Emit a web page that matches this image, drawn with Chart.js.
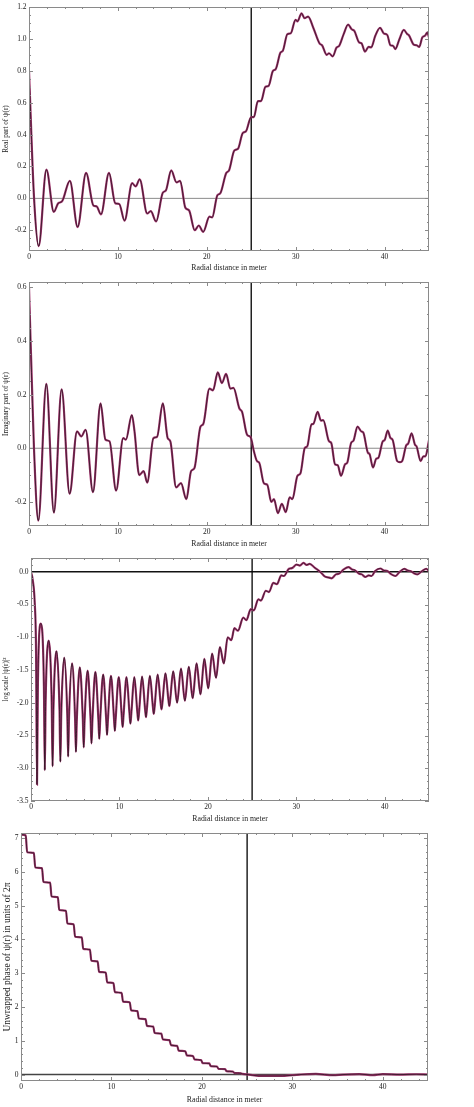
<!DOCTYPE html>
<html>
<head>
<meta charset="utf-8">
<script src="https://cdn.jsdelivr.net/npm/chart.js@4"></script>
<style>
  body { margin: 0; background: #fff; width: 474px; height: 1107px; overflow: hidden; position: relative; }
  canvas { position: absolute; left: 0; }
</style>
</head>
<body>
<canvas id="c1" width="474" height="275" style="top:0px"></canvas>
<canvas id="c2" width="474" height="276" style="top:275px"></canvas>
<canvas id="c3" width="474" height="275" style="top:551px"></canvas>
<canvas id="c4" width="474" height="281" style="top:826px"></canvas>
<script>
// radial distance (m) and real part
const rReal = [0, 0.57, 1.09, 1.96, 2.79, 3.3, 3.7, 4.6, 5.47, 6.42,
  7.25, 7.6, 8.1, 9.0, 9.7, 10.15, 10.75, 11.6, 12.0, 12.45,
  13.3, 13.7, 14.3, 15.05, 15.4, 16.0, 16.6, 17.0, 17.6, 18.0,
  18.65, 19.1, 19.6, 20.3, 20.6, 21.2, 21.5, 22.2, 22.5, 23.1,
  23.5, 24.05, 24.4, 25.0, 25.3, 25.75, 26.1, 26.6, 26.95, 27.45,
  27.75, 28.3, 28.55, 29.07, 29.45, 29.98, 30.2, 30.66, 31.0, 31.4,
  31.98, 32.7, 32.97, 33.5, 33.75, 34.17, 34.6, 34.9, 35.4, 35.9,
  36.3, 36.6, 37.15, 37.4, 37.8, 38.2, 38.5, 38.96, 39.5, 39.9,
  40.3, 40.66, 40.96, 41.2, 41.67, 42.17, 42.55, 42.74, 43.3, 43.6,
  43.9, 44.25, 44.55, 44.8, 45];
const vReal = [0.80, 0, -0.30, 0.18, -0.085, -0.03, -0.02, 0.11, -0.18, 0.16,
  -0.045, -0.05, -0.10, 0.16, -0.03, -0.035, -0.14, 0.095, 0.075, 0.12,
  -0.095, -0.08, -0.145, 0.035, 0.05, 0.175, 0.10, 0.11, -0.06, -0.075,
  -0.20, -0.17, -0.21, -0.115, -0.12, 0.02, 0.03, 0.16, 0.175, 0.30,
  0.31, 0.41, 0.42, 0.51, 0.51, 0.61, 0.61, 0.70, 0.705, 0.80,
  0.81, 0.915, 0.925, 1.03, 1.035, 1.12, 1.11, 1.16, 1.13, 1.14,
  1.07, 0.97, 0.96, 0.90, 0.91, 0.89, 0.946, 0.957, 1.03, 1.09,
  1.06, 1.05, 0.977, 0.973, 0.92, 0.95, 0.947, 1.02, 1.07, 1.035,
  1.025, 0.96, 0.957, 0.936, 0.998, 1.056, 1.03, 1.023, 0.963, 0.96,
  0.95, 1.01, 1.02, 1.04, 1.01];

// imaginary part
const rImag = [0, 0.56, 1.05, 1.95, 2.8, 3.67, 4.57, 5.4, 5.88, 6.37,
  7.2, 8.05, 8.6, 9.06, 9.8, 10.6, 10.9, 11.57, 11.87, 12.4,
  12.9, 13.3, 14.0, 14.4, 15.06, 15.6, 15.9, 16.55, 17.1, 17.7,
  18.24, 18.6, 19.3, 19.6, 20.3, 20.7, 21.24, 21.7, 22.17, 22.66,
  23.0, 23.67, 23.97, 24.54, 24.92, 25.3, 25.65, 25.9, 26.43, 26.8,
  27.26, 27.56, 28.0, 28.45, 28.88, 29.33, 29.63, 30.2, 30.53, 31.03,
  31.3, 31.79, 31.97, 32.47, 32.85, 33.1, 33.75, 34.0, 34.43, 34.73,
  35.1, 35.56, 35.8, 36.24, 36.5, 36.96, 37.37, 37.6, 38.13, 38.3,
  38.7, 39.07, 39.3, 39.8, 40.0, 40.36, 40.66, 40.9, 41.42, 41.72,
  41.98, 42.44, 42.66, 43.04, 43.42, 43.6, 44.06, 44.37, 44.6, 45];
const vImag = [0.60, 0, -0.27, 0.24, -0.24, 0.22, -0.17, 0.063, 0.044, 0.069,
  -0.164, 0.167, 0.032, 0.026, -0.158, 0.038, 0.032, 0.124, 0.063, -0.10,
  -0.085, -0.128, 0.038, 0.042, 0.167, 0.038, 0.026, -0.146, -0.13, -0.19,
  -0.085, -0.075, 0.081, 0.09, 0.222, 0.216, 0.283, 0.243, 0.277, 0.222,
  0.225, 0.148, 0.136, 0.05, 0.042, -0.011, -0.048, -0.054, -0.131, -0.136,
  -0.20, -0.19, -0.242, -0.207, -0.238, -0.183, -0.19, -0.103, -0.094, 0.001,
  0.007, 0.09, 0.09, 0.136, 0.103, 0.105, 0.026, 0.02, -0.06, -0.063,
  -0.103, -0.06, -0.054, 0.02, 0.028, 0.081, 0.063, 0.059, -0.017, -0.021,
  -0.072, -0.039, -0.036, 0.026, 0.03, 0.066, 0.038, 0.032, -0.048, -0.052,
  -0.048, 0.011, 0.017, 0.056, 0.013, 0.007, -0.048, -0.03, -0.03, 0.03];

// log scale |psi|^2 (sharp dips, broad peaks)
const rLog = [0, 0.19, 0.42, 0.57, 0.68, 0.78, 1.12, 1.46, 1.56, 1.66,
  2.0, 2.34, 2.44, 2.54, 2.88, 3.22, 3.32, 3.42, 3.76, 4.10,
  4.20, 4.30, 4.64, 4.98, 5.08, 5.18, 5.52, 5.86, 5.96, 6.06,
  6.40, 6.74, 6.84, 6.94, 7.28, 7.62, 7.72, 7.82, 8.16, 8.50,
  8.60, 8.70, 9.04, 9.38, 9.48, 9.58, 9.92, 10.26, 10.36, 10.46,
  10.80, 11.14, 11.24, 11.34, 11.68, 12.02, 12.12, 12.22, 12.56, 12.90,
  13.00, 13.10, 13.44, 13.78, 13.88, 13.98, 14.32, 14.66, 14.76, 14.86,
  15.20, 15.54, 15.64, 15.74, 16.08, 16.52, 16.96, 17.40, 17.84, 18.28,
  18.72, 19.16, 19.60, 20.04, 20.48, 20.92, 21.36, 21.80, 22.24, 22.65,
  23.0, 23.4, 24.0, 24.35, 24.85, 25.2, 25.7, 26.0, 26.55, 26.9,
  27.4, 27.8, 28.3, 28.6, 29.16, 29.5, 30.03, 30.4, 30.8, 31.15,
  31.5, 32.1, 32.6, 32.8, 33.25, 33.7, 34.0, 34.47, 34.8, 35.35,
  35.9, 36.3, 36.6, 37.1, 37.4, 37.8, 38.2, 38.5, 38.9, 39.5,
  39.9, 40.3, 40.75, 41.2, 41.66, 42.2, 42.6, 42.9, 43.4, 43.7,
  44.2, 44.7, 45];
const vLog = [0, -0.12, -0.47, -1.2, -3.25, -1.7, -0.79, -1.75, -3.03, -1.95,
  -1.05, -2.0, -2.97, -2.1, -1.21, -2.1, -2.90, -2.17, -1.31, -2.17,
  -2.82, -2.22, -1.40, -2.22, -2.75, -2.26, -1.46, -2.25, -2.68, -2.27,
  -1.51, -2.27, -2.62, -2.28, -1.53, -2.26, -2.55, -2.27, -1.57, -2.25,
  -2.49, -2.25, -1.59, -2.23, -2.43, -2.23, -1.61, -2.2, -2.37, -2.2,
  -1.61, -2.17, -2.32, -2.17, -1.61, -2.14, -2.27, -2.14, -1.60, -2.1,
  -2.22, -2.1, -1.59, -2.06, -2.17, -2.06, -1.57, -2.01, -2.10, -2.0,
  -1.55, -1.96, -2.05, -1.95, -1.52, -2.00, -1.48, -1.97, -1.45, -1.93,
  -1.40, -1.87, -1.33, -1.78, -1.25, -1.62, -1.15, -1.40, -1.0, -1.045,
  -0.86, -0.90, -0.70, -0.74, -0.57, -0.59, -0.42, -0.44, -0.29, -0.31,
  -0.17, -0.19, -0.055, -0.065, 0.045, 0.055, 0.11, 0.095, 0.135, 0.105,
  0.12, 0.06, 0.01, -0.015, -0.075, -0.09, -0.10, -0.04, -0.03, 0.035,
  0.07, 0.035, 0.025, -0.03, -0.04, -0.08, -0.055, -0.065, 0.01, 0.05,
  0.02, 0.01, -0.04, -0.065, -0.005, 0.045, 0.02, 0.01, -0.03, -0.04,
  0.01, 0.045, 0.01];

// unwrapped phase in units of 2pi
const rPhase = [0, 0.52, 0.68, 1.42, 1.58, 2.32, 2.48, 3.22, 3.38, 4.07,
  4.23, 4.97, 5.13, 5.82, 5.98, 6.72, 6.88, 7.62, 7.78, 8.47,
  8.63, 9.37, 9.53, 10.22, 10.38, 11.12, 11.28, 12.02, 12.18, 12.87,
  13.03, 13.77, 13.93, 14.62, 14.78, 15.52, 15.68, 16.42, 16.58, 17.27,
  17.43, 18.17, 18.33, 19.02, 19.18, 19.92, 20.08, 20.82, 20.98, 21.67,
  21.83, 22.57, 22.73, 23.42, 23.58, 24.32, 24.48, 25.2, 26.3, 28.9,
  30.8, 32.6, 34.5, 35.6, 37.4, 38.9, 40.0, 41.9, 43.7, 45];
const vPhase = [7.1, 7.08, 6.58, 6.56, 6.13, 6.11, 5.70, 5.68, 5.27, 5.25,
  4.87, 4.85, 4.47, 4.45, 4.08, 4.06, 3.72, 3.70, 3.37, 3.35,
  3.04, 3.02, 2.73, 2.71, 2.44, 2.42, 2.16, 2.14, 1.90, 1.88,
  1.66, 1.64, 1.44, 1.42, 1.23, 1.21, 1.04, 1.02, 0.87, 0.85,
  0.71, 0.69, 0.57, 0.55, 0.45, 0.43, 0.34, 0.33, 0.25, 0.24,
  0.17, 0.16, 0.10, 0.09, 0.05, 0.04, 0.02, 0.0, -0.04, -0.04,
  0.0, 0.02, -0.02, 0.0, 0.015, -0.015, 0.015, 0.0, 0.01, 0.0];

const xTickLabels = [0, 10, 20, 30, 40];
const cutoff = 25;

Chart.defaults.font.family = '"Liberation Serif", "DejaVu Serif", serif';
Chart.defaults.color = '#222';

// Mathematica style frame with inward ticks
const frameTicks = {
  id: 'frameTicks',
  afterDatasetsDraw(chart, args, o) {
    const {ctx, chartArea: a} = chart;
    const sx = chart.scales.x, sy = chart.scales.y;
    ctx.save();
    ctx.strokeStyle = '#8a8a8a';
    ctx.lineWidth = 1;
    ctx.strokeRect(a.left + 0.5, a.top + 0.5, a.width - 1, a.height - 1);
    ctx.beginPath();
    const mark = (scale, minor, major, vertical) => {
      const start = Math.ceil(scale.min / minor - 1e-9);
      for (let i = start; i * minor <= scale.max + 1e-9; i++) {
        const v = i * minor;
        const big = Math.abs(v / major - Math.round(v / major)) < 1e-6;
        const len = big ? 4 : 2;
        const p = Math.round(scale.getPixelForValue(v)) + 0.5;
        if (vertical) {
          ctx.moveTo(p, a.bottom); ctx.lineTo(p, a.bottom - len);
          ctx.moveTo(p, a.top); ctx.lineTo(p, a.top + len);
        } else {
          ctx.moveTo(a.left, p); ctx.lineTo(a.left + len, p);
          ctx.moveTo(a.right, p); ctx.lineTo(a.right - len, p);
        }
      }
    };
    mark(sx, o.xMinor, o.xMajor, true);
    mark(sy, o.yMinor, o.yMajor, false);
    ctx.stroke();
    ctx.restore();
  }
};
Chart.register(frameTicks);

function panel(id, xs, ys, p) {
  const pts = xs.map((r, i) => ({x: r, y: ys[i]}));
  new Chart(document.getElementById(id), {
    type: 'line',
    data: {
      datasets: [
        {data: pts, borderColor: '#1a1016', borderWidth: 0.7, cubicInterpolationMode: 'monotone'},
        {data: pts, borderColor: '#a3366f', borderWidth: 2.2, cubicInterpolationMode: 'monotone'},
        {data: [{x: cutoff, y: p.min}, {x: cutoff, y: p.max}], borderColor: '#000', borderWidth: 1.3},
        {data: [{x: 0, y: 0}, {x: 45, y: 0}], borderColor: p.zeroColor, borderWidth: p.zeroWidth}
      ]
    },
    options: {
      responsive: false,
      animation: false,
      layout: {padding: {top: p.padTop, right: p.padRight, left: 0, bottom: 0}},
      elements: {point: {radius: 0}},
      plugins: {
        legend: {display: false},
        tooltip: {enabled: false},
        frameTicks: {xMinor: 2, xMajor: 10, yMinor: p.minor, yMajor: p.step}
      },
      scales: {
        x: {
          type: 'linear', min: 0, max: 45,
          grid: {display: false, drawTicks: false},
          border: {display: false},
          afterBuildTicks: s => { s.ticks = xTickLabels.map(v => ({value: v})); },
          ticks: {font: {size: 7.5}, padding: 2, maxRotation: 0},
          title: {display: true, text: 'Radial distance in meter', font: {size: 7.8}, padding: {top: 0, bottom: 2.5}},
          afterFit: s => { s.height = p.axisH; }
        },
        y: {
          min: p.min, max: p.max,
          grid: {display: false, drawTicks: false},
          border: {display: false},
          ticks: {
            stepSize: p.step, includeBounds: false, font: {size: 7.5}, padding: 2.5,
            callback: v => v.toFixed(p.digits)
          },
          title: {display: true, text: p.title, font: {size: p.titleSize}, padding: {top: 2, bottom: 0}},
          afterFit: s => { s.width = p.axisW; }
        }
      }
    }
  });
}

panel('c1', rReal, vReal, {min: -0.33, max: 1.2, step: 0.2, minor: 0.05, digits: 1,
  title: 'Real part of ψ(r)', titleSize: 7.2, padTop: 5, padRight: 45, axisW: 29, axisH: 24,
  zeroColor: '#8a8a8a', zeroWidth: 1});
panel('c2', rImag, vImag, {min: -0.29, max: 0.62, step: 0.2, minor: 0.05, digits: 1,
  title: 'Imaginary part of ψ(r)', titleSize: 7.2, padTop: 5, padRight: 45, axisW: 29, axisH: 25,
  zeroColor: '#8a8a8a', zeroWidth: 1});
panel('c3', rLog, vLog, {min: -3.5, max: 0.21, step: 0.5, minor: 0.1, digits: 1,
  title: 'log scale |ψ(r)|²', titleSize: 7.2, padTop: 4, padRight: 45, axisW: 31, axisH: 25,
  zeroColor: '#111', zeroWidth: 1.5});
panel('c4', rPhase, vPhase, {min: -0.19, max: 7.15, step: 1, minor: 0.2, digits: 0,
  title: 'Unwrapped phase of ψ(r) in units of 2π', titleSize: 9.5, padTop: 3, padRight: 46, axisW: 21, axisH: 26,
  zeroColor: '#444', zeroWidth: 1.5});
</script>
</body>
</html>
